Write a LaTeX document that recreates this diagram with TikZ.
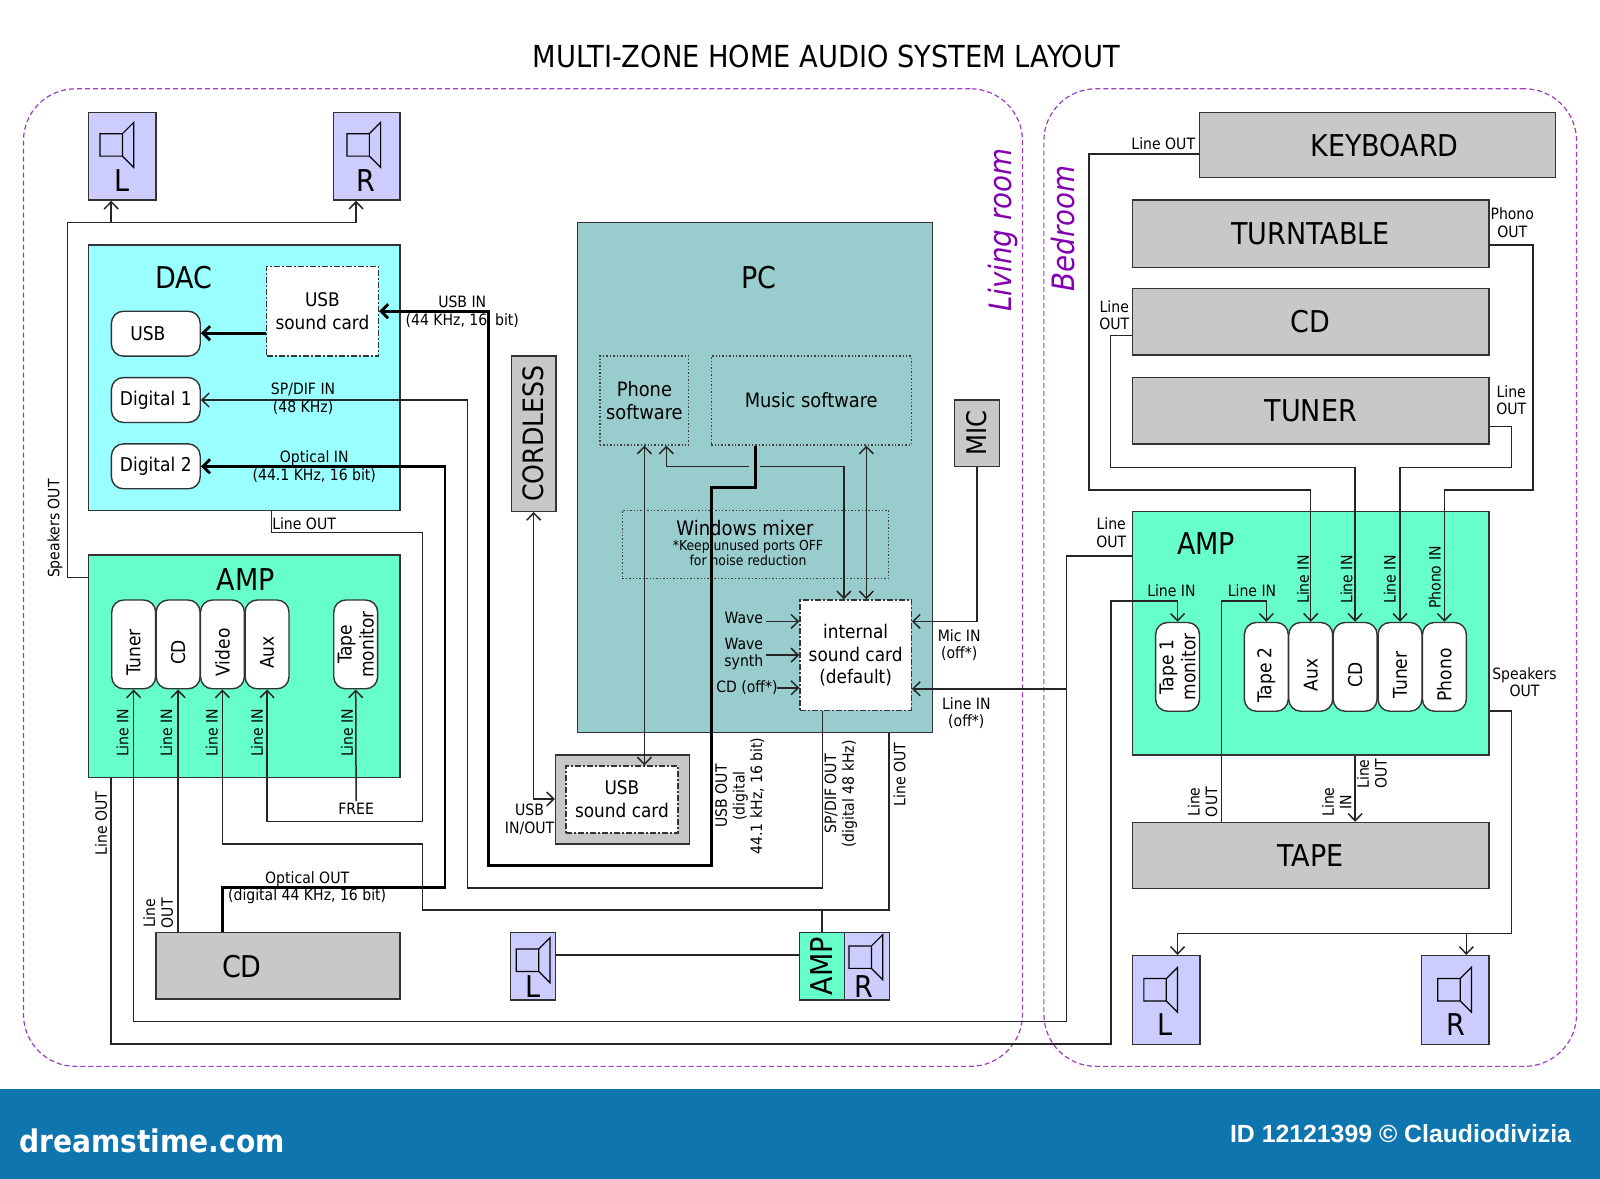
\documentclass[tikz,border=0pt]{standalone}
\usepackage{fontspec}
\setmainfont{DejaVu Sans Condensed}
\newfontfamily\footfont{Liberation Sans}
\usetikzlibrary{arrows.meta,positioning,calc}
\definecolor{RoomLine}{RGB}{160,60,190}
\definecolor{RoomText}{RGB}{130,0,175}
\definecolor{SpkBlue}{RGB}{204,204,255}
\definecolor{DacCyan}{RGB}{153,255,255}
\definecolor{AmpGreen}{RGB}{102,255,204}
\definecolor{PcTeal}{RGB}{153,204,204}
\definecolor{DevGray}{RGB}{200,200,200}
\definecolor{FootBlue}{RGB}{14,117,174}
\newcommand{\px}{0.51pt}
\tikzset{
box/.style={draw=black!80,line width=.7pt,inner sep=0pt},
spkbox/.style={box,fill=SpkBlue},
graybox/.style={box,fill=DevGray},
softbox/.style={box,densely dotted,draw=black!75,font=\fontsize{9.9}{11.5}\selectfont},
cardbox/.style={box,fill=white,align=center,dash pattern=on 3pt off 1pt on 1pt off 1pt,font=\fontsize{9.4}{11.5}\selectfont},
pill/.style={box,fill=white,rounded corners=6pt,font=\fontsize{9.5}{11.5}\selectfont},
inpill/.style={pill,rotate=90,minimum width=87*\px,minimum height=43*\px,execute at end node={\hspace*{8pt}}},
twopill/.style={pill,rotate=90,minimum width=87*\px,minimum height=43*\px,align=center,font=\fontsize{9.5}{11}\selectfont},
room/.style={draw=RoomLine,line width=.6pt,dash pattern=on 2.5pt off 1.5pt,rounded corners=26pt},
roomname/.style={text=RoomText,rotate=90,font=\fontsize{15.4}{18}\selectfont\itshape},
big/.style={font=\fontsize{15}{18}\selectfont},
tag/.style={inner sep=0pt,align=center,font=\fontsize{7.8}{8.8}\selectfont},
rtag/.style={tag,rotate=90},
wire/.style={draw=black!85,line width=.75pt},
fatwire/.style={draw=black,line width=1.4pt},
spk/.pic={\draw[line width=.6pt] (0,0) rectangle (22,22) (22,0) -- (33,-11) -- (33,33) -- (22,22);}
}
\begin{document}
\begin{tikzpicture}[x=\px,y=-\px,>={Straight Barb[length=3.6pt,width=7pt]}]
\useasboundingbox (0,0) rectangle (1568,1155.4);
\fill[white] (0,0) rectangle (1568,1155.4);
\node[font=\fontsize{15.15}{18}\selectfont] (title) at (810,55) {MULTI-ZONE HOME AUDIO SYSTEM LAYOUT};
\node[room,minimum width=979*\px,minimum height=958*\px] (living) at (512.5,566) {};
\node[room,minimum width=522*\px,minimum height=958*\px] (bedroom) at (1284,566) {};
\node[roomname] (livingname) at (983,225.5) {Living room};
\node[roomname] (bedroomname) at (1042,224) {Bedroom};
% living room boxes
\node[spkbox,minimum width=66*\px,minimum height=86*\px] (spkL) at (120,153) {};
\node[spkbox,minimum width=65*\px,minimum height=86*\px] (spkR) at (359.5,153) {};
\node[box,fill=DacCyan,minimum width=305*\px,minimum height=260*\px] (dac) at (239.5,370) {};
\node[big] (dacname) at (180,272) {DAC};
\node[cardbox,minimum width=109.5*\px,minimum height=88*\px] (dacsc) at (316,305) {USB\\sound card};
\node[pill,minimum width=87*\px,minimum height=44*\px] (dacusb) at (152.7,327) {USB\hspace*{8pt}};
\node[pill,minimum width=87*\px,minimum height=44*\px] (dig1) at (152.7,392) {Digital 1};
\node[pill,minimum width=87*\px,minimum height=44*\px] (dig2) at (152.7,457) {Digital 2};
\node[box,fill=AmpGreen,minimum width=305*\px,minimum height=218*\px] (ampL) at (239.5,653) {};
\node[big] (ampLname) at (241,568) {AMP};
\node[inpill] (amptuner) at (131,631.5) {Tuner};
\node[inpill] (ampcd) at (174.6,631.5) {CD};
\node[inpill] (ampvideo) at (218,631.5) {Video};
\node[inpill] (ampaux) at (261.7,631.5) {Aux};
\node[twopill] (amptape) at (348.6,631.5) {Tape\\monitor};
\node[box,fill=DevGray,minimum width=239*\px,minimum height=65*\px] (cdL) at (272.5,946.5) {};
\node[big] (cdLname) at (237,947) {CD};
\node[box,fill=DevGray,rotate=90,minimum width=152*\px,minimum height=44*\px,font=\fontsize{14}{16}\selectfont] (cordless) at (523,425) {CORDLESS};
\node[box,fill=PcTeal,minimum width=348*\px,minimum height=500*\px] (pc) at (740,468) {};
\node[big] (pcname) at (744,272) {PC};
\node[softbox,minimum width=87*\px,minimum height=87*\px,align=center] (phone) at (631.5,392.5) {Phone\\software};
\node[softbox,minimum width=196*\px,minimum height=87*\px] (music) at (795,392.5) {Music software};
\node[softbox,minimum width=261*\px,minimum height=67*\px] (mixer) at (740.5,533.5) {};
\node[tag,font=\fontsize{10}{11}\selectfont] (mixername) at (730,517) {Windows mixer};
\node[tag,font=\fontsize{6.9}{7.7}\selectfont] (mixernote) at (733,542) {*Keep unused ports OFF\\for noise reduction};
\node[cardbox,minimum width=109*\px,minimum height=108*\px,font=\fontsize{9.4}{11.2}\selectfont] (isc) at (838.5,642) {internal\\sound card\\(default)};
\node[box,fill=DevGray,rotate=90,minimum width=65*\px,minimum height=44*\px,font=\fontsize{13.5}{15}\selectfont] (mic) at (957.5,424.5) {MIC};
\node[box,fill=DevGray,minimum width=131*\px,minimum height=87*\px] (usbx) at (610,783.5) {};
\node[cardbox,minimum width=110*\px,minimum height=65.5*\px] (usbi) at (609.5,783.5) {USB\\sound card};
\node[spkbox,minimum width=44*\px,minimum height=66*\px] (spkM) at (522.5,947) {};
\node[box,fill=AmpGreen,rotate=90,minimum width=66*\px,minimum height=44*\px,big] (midamp) at (805.5,947) {AMP};
\node[spkbox,minimum width=44*\px,minimum height=66*\px] (midR) at (849.5,947) {};
% bedroom boxes
\node[box,fill=DevGray,minimum width=349*\px,minimum height=64*\px] (keyb) at (1350,142) {};
\node[big] (keybname) at (1357,143) {KEYBOARD};
\node[graybox,big,minimum width=349*\px,minimum height=66*\px] (turn) at (1284.5,229) {TURNTABLE};
\node[graybox,big,minimum width=349*\px,minimum height=65*\px] (cdR) at (1284.5,315.5) {CD};
\node[graybox,big,minimum width=349*\px,minimum height=65*\px] (tuner) at (1284.5,402.5) {TUNER};
\node[box,fill=AmpGreen,minimum width=349*\px,minimum height=239*\px] (ampR) at (1284.5,620.5) {};
\node[big] (ampRname) at (1182,533) {AMP};
\node[twopill] (bdtape) at (1154,653.5) {Tape 1\\monitor};
\node[inpill] (bdtape2) at (1241,653.5) {Tape 2};
\node[inpill] (bdaux) at (1284.5,653.5) {Aux};
\node[inpill] (bdcd) at (1328,653.5) {CD};
\node[inpill] (bdtuner) at (1372,653.5) {Tuner};
\node[inpill] (bdphono) at (1415.5,653.5) {Phono};
\node[graybox,big,minimum width=349*\px,minimum height=65*\px] (tape) at (1284.5,838.5) {TAPE};
\node[spkbox,minimum width=66*\px,minimum height=87*\px] (spkRL) at (1143,980) {};
\node[spkbox,minimum width=66*\px,minimum height=87*\px] (spkRR) at (1426,980) {};
% speaker cones and letters
\pic at (98,131) {spk};
\pic at (340,131) {spk};
\pic at (506,930) {spk};
\pic at (832,927) {spk};
\pic at (1121,959) {spk};
\pic at (1409,959) {spk};
\node[big] (ltrL) at (120,177) {L};
\node[big] (ltrR) at (359,177) {R};
\node[big] (ltrML) at (522,967) {L};
\node[big] (ltrMR) at (847,967) {R};
\node[big] (ltrRL) at (1142,1004) {L};
\node[big] (ltrRR) at (1427,1004) {R};
% living room wires
\draw[wire,->] (ampL.west |- 0,566) -- (66,566) -- (66,218) -| (spkR.south -| 349,0);
\draw[wire,->] (109,218) -- (spkL.south -| 109,0);
\draw[fatwire,->] (dacsc.west |- 0,326.5) -- (dacusb.east |- 0,326.5);
\draw[fatwire,->] (music.south -| 740,0) |- (697,478) |- (479,848) |- (dacsc.east);
\draw[wire,->] (isc.south -| 806,0) |- (458,870) |- (dig1.east);
\draw[fatwire,->] (cdL.north -| 218,0) |- (436,870) |- (dig2.east);
\draw[wire,->] (dac.south -| 266,0) |- (414,522) |- (ampaux.west |- 0,805) -- (ampaux.west);
\draw[wire,->] (pc.south -| 871,0) |- (414,892) |- (ampvideo.west |- 0,827) -- (ampvideo.west);
\draw[wire] (805.5,892) -- (midamp.east);
\draw[wire,->] (ampR.west |- 0,545) -| (1045,1001) -| (amptuner.west);
\draw[wire,->] (1045,675) -- (isc.east |- 0,675);
\draw[wire,->] (ampL.south -| 109,0) |- (1089,1023) |- (bdtape.east |- 0,589) -- (bdtape.east);
\draw[wire,->] (cdL.north -| 174.6,0) -- (ampcd.west);
\draw[wire,->] (349,785) -- (amptape.west);
\draw[wire,<->] (cordless.west) |- (usbx.west |- 0,783);
\draw[wire,<->] (phone.south) -- (usbi.north -| phone.south);
\draw[wire,<-] (phone.south -| 653,0) |- (734,457);
\draw[wire,->] (745,457) -| (isc.north -| 827,0);
\draw[wire,<->] (music.south -| 849,0) -- (isc.north -| 849,0);
\draw[wire,->] (751,609) -- (isc.west |- 0,609);
\draw[wire,->] (751,642) -- (isc.west |- 0,642);
\draw[wire,->] (761,674) -- (isc.west |- 0,674);
\draw[wire,->] (mic.west) |- (isc.east |- 0,609);
\draw[wire] (spkM.east |- 0,936) -- (midamp.north |- 0,936);
% bedroom wires
\draw[wire,->] (keyb.west |- 0,151) -| (1067,480) -| (bdaux.east);
\draw[wire,->] (turn.east |- 0,240) -| (1502.5,480) -| (bdphono.east);
\draw[wire,->] (cdR.west |- 0,329) -| (1088.5,458) -| (bdcd.east);
\draw[wire,->] (tuner.east |- 0,418) -| (1481,458) -| (bdtuner.east);
\draw[wire,->] (ampR.east |- 0,697) -| (1481,915) -| (spkRL.north -| 1154,0);
\draw[wire,->] (1437,915) -- (spkRR.north -| 1437,0);
\draw[wire,->] (tape.north -| 1197,0) |- (bdtape2.east |- 0,589) -- (bdtape2.east);
\draw[wire,->] (ampR.south -| 1328,0) -- (tape.north -| 1328,0);
% labels
\node[tag] (lusbin) at (453,305.5) {USB IN\\(44 KHz, 16\enspace bit)};
\node[tag] (lspdif) at (297,391) {SP/DIF IN\\(48 KHz)};
\node[tag] (lopt) at (308,457.5) {Optical IN\\(44.1 KHz, 16 bit)};
\node[tag] (ldacout) at (298,513) {Line OUT};
\node[rtag] (lspk) at (54,518) {Speakers OUT};
\node[rtag] (lin1) at (120,718) {Line IN};
\node[rtag] (lin2) at (163,718) {Line IN};
\node[rtag] (lin3) at (207.5,718) {Line IN};
\node[rtag] (lin4) at (252,718) {Line IN};
\node[rtag] (lin5) at (340,718) {Line IN};
\node[tag] (lfree) at (349,793) {FREE};
\node[rtag] (lampout) at (99,807) {Line OUT};
\node[rtag] (lcdout) at (155,895) {Line\\OUT};
\node[tag] (lcdopt) at (301,870) {Optical OUT\\(digital 44 KHz, 16 bit)};
\node[tag] (lusbio) at (519,803) {USB\\IN/OUT};
\node[tag] (lwave) at (729,606) {Wave};
\node[tag] (lsynth) at (729,641) {Wave\\synth};
\node[tag] (lcdoff) at (732,674) {CD (off*)};
\node[tag] (lmic) at (940,632) {Mic IN\\(off*)};
\node[tag] (llinein) at (947,699) {Line IN\\(off*)};
\node[rtag] (lusbout) at (725,780) {USB OUT\\(digital\\44.1 kHz, 16 bit)};
\node[rtag] (lspout) at (824,778) {SP/DIF OUT\\(digital 48 kHz)};
\node[rtag] (llineout) at (881.5,759) {Line OUT};
\node[tag] (lkeyb) at (1140,141) {Line OUT};
\node[tag] (lphono) at (1482,218.5) {Phono\\OUT};
\node[tag] (lcdr) at (1092,309) {Line\\OUT};
\node[tag] (ltun) at (1481,392) {Line\\OUT};
\node[tag] (lamp) at (1089,522) {Line\\OUT};
\node[tag] (lt1) at (1148,579) {Line IN};
\node[tag] (lt2) at (1227,579) {Line IN};
\node[rtag] (lb1) at (1277,568) {Line IN};
\node[rtag] (lb2) at (1319.5,568) {Line IN};
\node[rtag] (lb3) at (1362,568) {Line IN};
\node[rtag] (lb4) at (1406,566) {Phono IN};
\node[tag] (lsp) at (1494,668.5) {Speakers\\OUT};
\node[rtag] (ltapeout) at (1178.5,786) {Line\\OUT};
\node[rtag] (ltapein) at (1310,786) {Line\\IN};
\node[rtag] (lampo) at (1344.5,758.5) {Line\\OUT};
% footer
\fill[FootBlue] (0,1067) rectangle (1568,1155.4);
\node[text=white,font=\fontsize{15.6}{18}\selectfont\bfseries] (brand) at (149,1118) {dreamstime.com};
\node[text=white,anchor=east,inner sep=0pt,font=\footfont\fontsize{12.4}{14}\selectfont\bfseries] (stockid) at (1540,1111) {ID 12121399 © Claudiodivizia};
\end{tikzpicture}
\end{document}
